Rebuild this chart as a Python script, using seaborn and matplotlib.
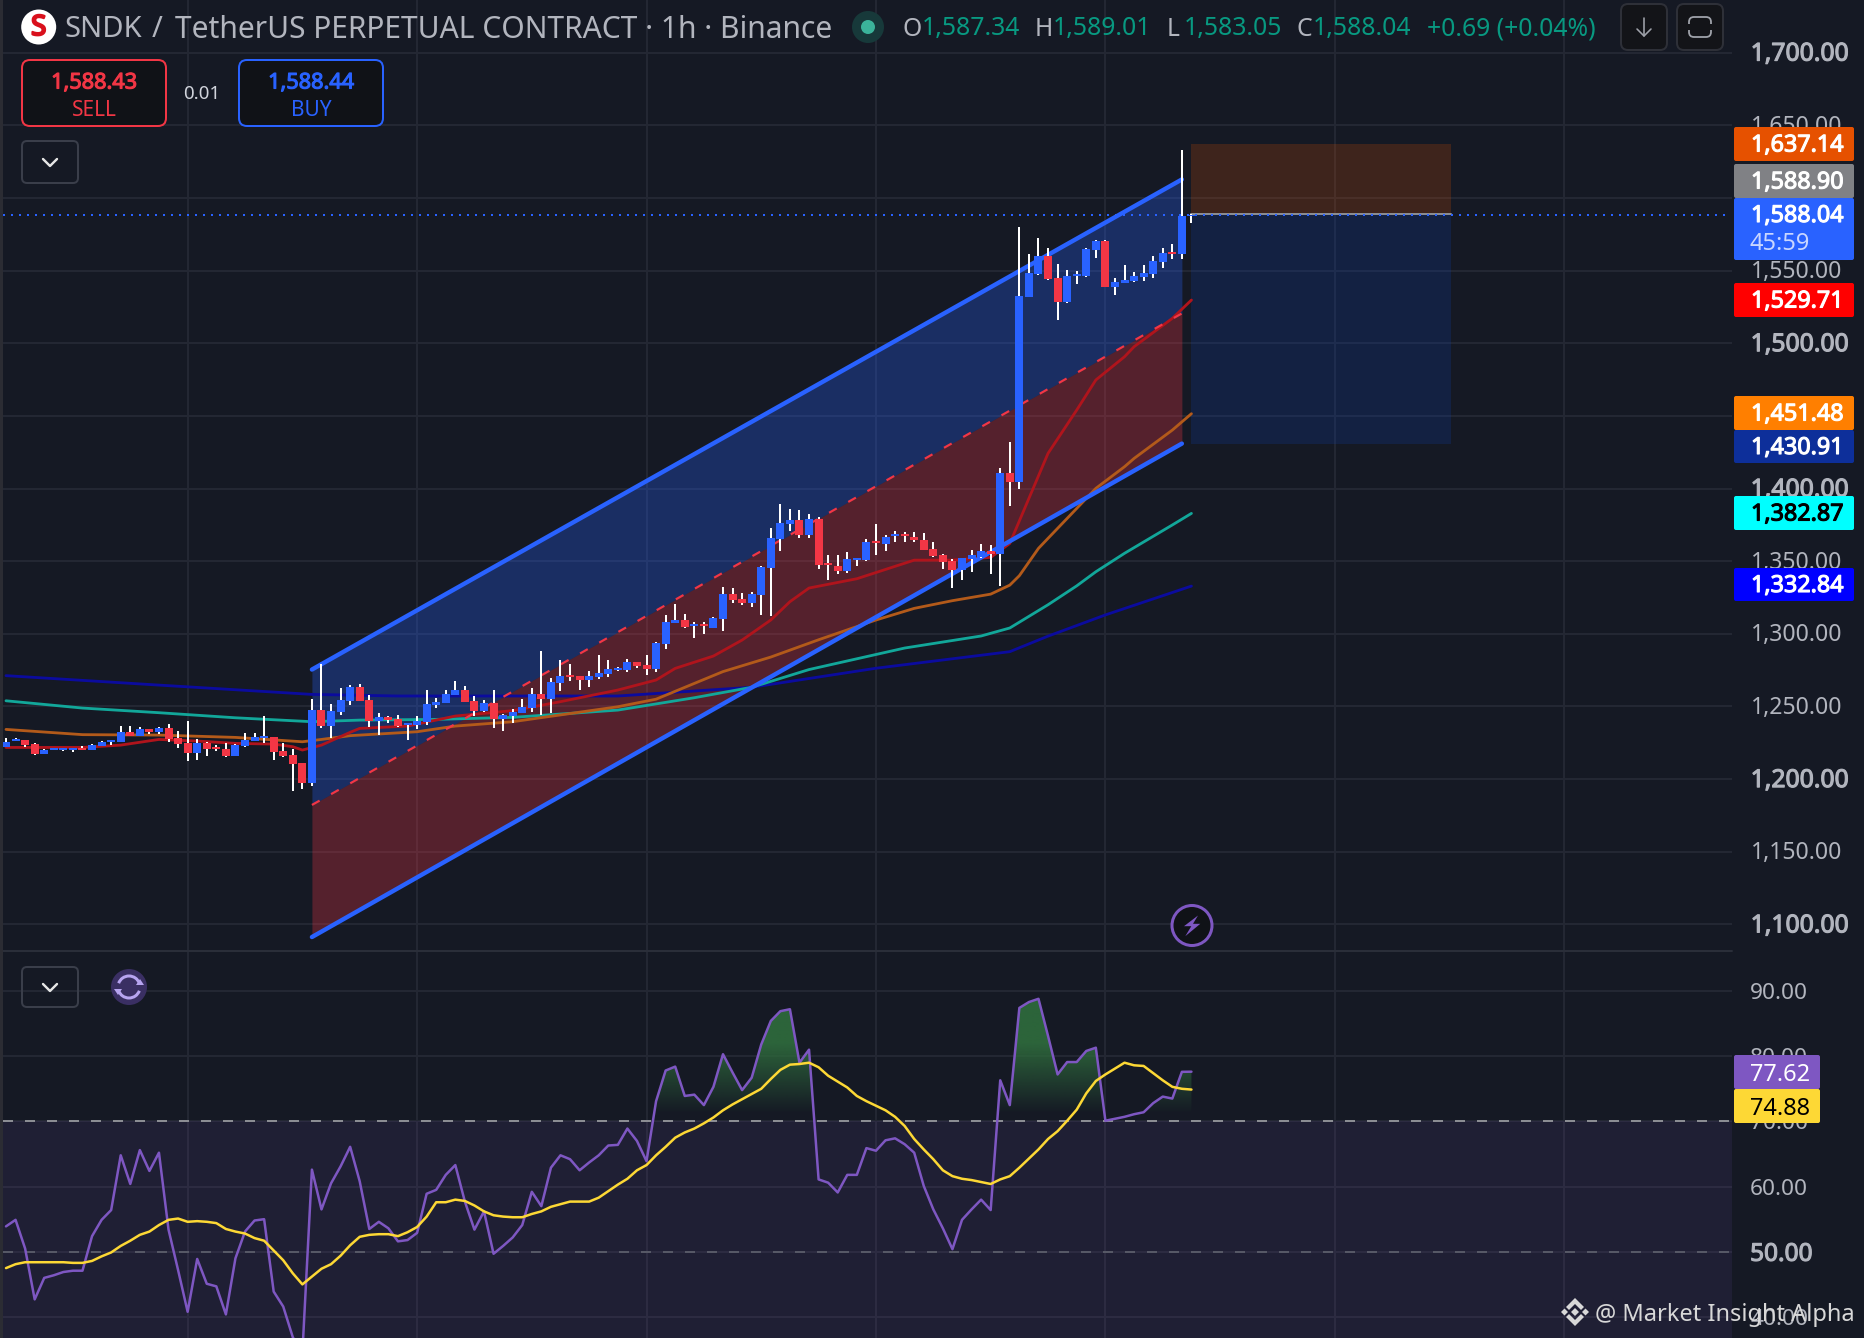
import numpy as np
import pandas as pd
import matplotlib
matplotlib.use("Agg")
import matplotlib.pyplot as plt
import matplotlib.patheffects as pe
from matplotlib.patches import FancyBboxPatch, Circle, Polygon, Arc
from matplotlib.path import Path
from matplotlib.transforms import Affine2D
import seaborn as sns

# ---------------- data ----------------
open_ = [1221.8,1226.2,1226.9,1224.1,1217.2,1220.0,1220.0,1220.0,1221.6,1220.0,
1222.7,1225.5,1225.5,1232.4,1229.6,1234.4,1232.4,1235.1,1228.3,1224.8,
1217.9,1224.8,1222.1,1220.7,1215.9,1222.7,1226.2,1228.3,1228.9,1219.3,
1216.6,1211.0,1197.3,1247.5,1236.5,1246.1,1253.7,1263.4,1254.4,1239.9,
1242.7,1241.3,1237.2,1237.2,1239.3,1251.0,1252.3,1257.8,1261.3,1253.7,
1246.8,1252.3,1241.3,1243.4,1245.5,1248.9,1258.5,1255.1,1266.1,1271.6,
1270.9,1268.2,1270.2,1272.3,1275.1,1275.1,1280.6,1278.5,1275.8,1293.0,
1307.4,1309.5,1305.4,1306.7,1304.0,1310.2,1327.3,1323.9,1321.2,1326.7,
1345.2,1365.2,1375.5,1378.3,1368.0,1379.0,1348.7,1346.6,1343.2,1350.7,
1350.7,1363.8,1361.8,1367.3,1368.6,1366.6,1364.5,1358.3,1354.2,1350.1,
1343.9,1351.4,1352.8,1356.9,1354.9,1410.4,1404.4,1531.8,1547.6,1560.0,
1544.8,1528.3,1546.2,1546.2,1564.1,1570.3,1538.7,1541.4,1542.8,1545.5,
1547.6,1555.9,1562.7,1561.4,1587.34]
close = [1225.5,1227.6,1223.2,1217.2,1220.0,1221.6,1221.6,1221.6,1220.0,1223.4,
1225.5,1226.9,1232.4,1229.6,1234.4,1232.4,1235.1,1227.6,1224.1,1217.9,
1224.8,1220.7,1220.7,1215.9,1223.4,1226.9,1228.9,1229.6,1218.6,1215.9,
1210.4,1197.3,1247.5,1236.5,1246.8,1254.4,1263.4,1253.7,1239.9,1242.7,
1240.6,1236.5,1238.6,1239.9,1251.7,1253.0,1258.5,1261.3,1253.0,1246.8,
1252.3,1241.3,1244.1,1246.1,1249.6,1258.5,1255.1,1266.8,1270.9,1270.2,
1268.2,1270.9,1273.0,1275.7,1276.4,1280.6,1277.8,1275.8,1293.7,1308.1,
1309.5,1304.7,1306.7,1305.4,1310.9,1327.4,1323.2,1321.2,1327.3,1345.9,
1365.9,1376.2,1378.3,1368.0,1379.0,1347.3,1347.3,1343.2,1351.4,1352.1,
1363.1,1362.4,1366.6,1368.6,1367.3,1364.5,1357.6,1353.5,1349.4,1343.9,
1352.1,1354.2,1356.9,1354.9,1410.4,1404.4,1532.4,1548.1,1560.0,1544.2,
1528.3,1546.2,1547.6,1564.8,1570.3,1538.7,1542.1,1543.5,1546.2,1548.3,
1556.5,1562.0,1561.4,1587.5,1588.04]
high = [1228.3,1228.3,1226.9,1224.6,1220.7,1221.6,1221.6,1221.6,1222.7,1224.1,
1226.2,1226.9,1236.5,1236.5,1235.8,1234.4,1235.8,1237.9,1233.1,1239.9,
1227.6,1225.5,1223.4,1224.8,1224.1,1231.7,1231.7,1243.4,1228.9,1224.8,
1220.7,1211.0,1255.1,1279.2,1251.7,1262.7,1264.7,1265.4,1257.8,1245.5,
1243.4,1244.1,1238.6,1243.4,1261.3,1255.8,1261.3,1267.5,1264.0,1257.1,
1254.4,1261.3,1244.8,1248.2,1255.1,1262.7,1288.1,1269.5,1281.9,1279.2,
1270.9,1274.4,1285.4,1281.9,1277.1,1282.7,1280.6,1285.4,1294.3,1312.9,
1320.5,1313.6,1308.1,1308.1,1311.6,1332.2,1331.5,1328.0,1328.7,1346.6,
1372.8,1389.3,1385.8,1385.2,1382.4,1380.3,1354.2,1354.2,1356.3,1352.1,
1365.2,1375.5,1367.9,1370.7,1370.0,1370.0,1369.3,1363.1,1354.9,1351.4,
1352.1,1357.6,1361.8,1361.1,1413.9,1431.7,1579.7,1561.4,1572.4,1565.5,
1554.5,1550.4,1549.7,1565.5,1571.0,1571.0,1544.8,1553.8,1549.0,1553.8,
1560.0,1565.5,1568.2,1632.9,1589.01]
low = [1221.8,1226.2,1222.3,1216.6,1217.2,1219.8,1219.5,1218.6,1220.0,1220.0,
1222.7,1223.4,1225.5,1229.6,1229.6,1231.0,1231.0,1225.5,1221.4,1212.4,
1213.1,1215.9,1219.3,1215.2,1215.9,1222.1,1226.2,1224.8,1213.1,1215.2,
1191.8,1193.2,1195.2,1235.1,1228.3,1244.1,1251.0,1253.7,1235.8,1230.3,
1238.6,1235.8,1226.9,1234.4,1237.2,1248.9,1252.3,1257.8,1253.0,1243.4,
1246.1,1235.1,1233.1,1238.6,1245.5,1246.1,1244.1,1245.5,1260.6,1267.5,
1261.3,1263.4,1268.9,1270.2,1274.4,1273.7,1276.5,1271.6,1273.7,1289.5,
1307.4,1304.0,1297.1,1299.9,1304.0,1301.9,1321.2,1319.8,1318.4,1312.9,
1312.2,1356.9,1370.7,1365.9,1365.9,1344.5,1337.0,1341.1,1341.8,1346.6,
1350.1,1354.2,1356.9,1363.1,1363.1,1363.1,1357.6,1352.8,1344.5,1331.5,
1337.0,1342.5,1352.1,1341.1,1332.8,1387.9,1399.6,1531.8,1546.9,1543.5,
1515.9,1527.6,1540.7,1545.5,1558.6,1538.7,1533.1,1541.4,1542.1,1542.8,
1544.8,1551.7,1557.9,1557.9,1583.05]

ma_red_x = [0,8,12,16,20,24,28,30,31,33,36,37,42,47,53,58,64,68,70,74,77,80,82,84,89,95,99,103,105,109,112,114,117,118,122,124]
ma_red_y = [1221.8,1221.8,1223.4,1227.3,1226.2,1224.6,1224.1,1222.3,1220.0,1223.4,1232.2,1234.9,1236.5,1243.4,1247.1,1253.3,1261.3,1268.2,1276.2,1284.7,1295.7,1309.5,1322.1,1331.5,1337.9,1350.7,1350.7,1352.6,1362.2,1424.2,1454.0,1474.7,1490.7,1497.6,1517.1,1529.71]
ma_orange_x = [0,8,16,24,31,33,36,43,47,53,64,68,75,80,85,91,95,99,103,105,106,108,109,112,114,117,118,122,124]
ma_orange_y = [1234.2,1230.6,1230.3,1228.7,1225.7,1227.3,1229.9,1232.6,1236.5,1239.5,1249.8,1255.0,1274.0,1284.0,1295.9,1309.5,1317.5,1322.8,1327.3,1333.5,1340.0,1358.8,1365.7,1386.3,1400.1,1415.0,1420.7,1440.2,1451.48]
ma_teal_x = [0,8,16,24,32,37,45,53,64,72,78,84,94,102,105,109,112,114,117,122,124]
ma_teal_y = [1253.9,1248.9,1245.7,1242.2,1239.5,1240.6,1241.1,1242.5,1247.5,1256.0,1263.2,1275.4,1290.2,1298.5,1304.0,1320.0,1333.0,1342.7,1355.4,1374.9,1382.87]
ma_navy_x = [0,16,32,41,64,78,91,105,109,115,124]
ma_navy_y = [1271.2,1264.7,1258.3,1257.2,1257.2,1263.2,1276.3,1287.7,1298.4,1313.0,1332.84]

rsi = [53.9,54.9,50.5,42.7,46.0,46.4,46.9,47.1,47.1,52.4,54.9,56.4,64.8,60.4,65.6,62.4,65.2,53.4,47.2,40.8,
48.9,45.1,44.7,40.4,49.0,53.1,54.8,55.0,43.9,41.6,36.9,34.4,62.6,56.5,60.5,63.1,66.1,60.8,53.5,54.6,
53.6,51.6,51.8,52.9,58.9,59.5,61.8,63.3,57.7,53.4,56.2,49.7,50.9,52.2,54.1,59.2,57.0,62.9,64.8,64.2,
62.5,63.7,64.8,66.3,66.4,68.9,67.0,63.9,73.1,77.8,78.4,73.9,74.1,72.5,75.3,80.3,77.5,74.8,76.7,81.8,
85.4,86.9,87.2,79.0,81.0,61.1,60.6,59.1,61.8,61.8,65.9,65.5,67.1,67.4,66.5,65.2,60.1,56.5,53.6,50.4,
54.9,56.5,58.0,56.4,76.3,72.5,87.4,88.3,88.8,83.1,77.2,79.1,79.1,80.8,81.3,70.1,70.4,70.7,71.1,71.4,
72.8,73.8,73.5,77.6,77.62]
rsi_ma = [47.5,48.1,48.4,48.4,48.4,48.4,48.4,48.3,48.3,48.6,49.3,49.9,50.9,51.7,52.6,53.1,54.1,54.9,55.1,54.6,
54.7,54.6,54.4,53.5,53.1,52.8,52.1,51.7,50.2,48.7,46.7,45.0,46.2,47.4,48.1,49.4,51.0,52.3,52.6,52.7,
52.7,52.4,53.0,53.8,55.4,57.6,57.6,58.0,57.8,57.1,56.2,55.6,55.4,55.3,55.3,55.8,56.2,56.9,57.3,57.7,
57.7,57.7,58.3,59.3,60.3,61.2,62.5,63.3,64.8,66.1,67.5,68.3,68.9,69.7,70.6,71.7,72.6,73.4,74.2,75.0,
76.5,77.9,78.7,78.8,79.0,78.3,77.0,76.1,75.2,73.9,73.1,72.4,71.7,70.7,69.3,67.3,65.7,64.2,62.5,61.6,
61.2,61.0,60.7,60.4,61.1,61.6,62.9,64.3,65.7,67.3,68.5,70.1,71.8,74.3,76.2,77.2,78.1,79.0,78.6,78.5,
77.4,76.3,75.3,75.0,74.88]

channel_x = [32, 123]
channel_top = [1275.4, 1612.7]
channel_mid = [1182.2, 1520.5]
channel_bot = [1091.3, 1430.91]
position_x = [124, 151.2]
position_stop = 1637.14
position_entry = 1588.90
position_target = 1430.91
last_price = 1588.04

price_ticks = [1100,1150,1200,1250,1300,1350,1400,1450,1500,1550,1600,1650,1700]
price_labeled = {1100:True,1150:False,1200:True,1250:False,1300:False,1350:False,1400:True,1500:True,1550:False,1650:False,1700:True}
rsi_ticks = [40,50,60,70,80,90]
time_grid = [19,43,67,91,115,139,163]
price_badges = [("1,637.14","#e65100","white",127,161),("1,588.90","#808185","white",164,198),
                ("1,529.71","#ff0000","white",283,317),("1,451.48","#ff7f00","white",396,430),
                ("1,430.91","#0d2f9a","white",430,463),("1,382.87","#00ffff","black",496,530),
                ("1,332.84","#0000ff","white",568,601)]

# ---------------- style ----------------
BG = "#151924"; GRID = "#232733"; BLUE = "#2962ff"; RED = "#f23645"; TICK = "#b2b5be"; TEAL = "#089981"
W, H = 1864, 1338
px = 72 / 100
sns.set_theme(style="dark", rc={"figure.facecolor": BG, "axes.facecolor": BG, "savefig.facecolor": BG,
                                "axes.grid": True, "grid.color": GRID, "grid.linewidth": 2 * px})
plt.rcParams["font.family"] = ["Noto Sans", "DejaVu Sans"]

def heavy(color, w=.8):
    return [pe.withStroke(linewidth=w, foreground=color)]

fig = plt.figure(figsize=(W / 100, H / 100), dpi=100)
L, R_, SEP = 3, 1732, 951
ax = fig.add_axes([L / W, 1 - SEP / H, (R_ - L) / W, SEP / H])
ax2 = fig.add_axes([L / W, 0, (R_ - L) / W, (H - SEP) / H])
ov = fig.add_axes([0, 0, 1, 1], zorder=10)
ov.set_xlim(0, W); ov.set_ylim(H, 0); ov.axis("off"); ov.patch.set_alpha(0)

x_left, x_right = (L - 6) / 9.56, (R_ - 6) / 9.56
idx = np.arange(len(open_))
o, c, hi, lo = map(np.array, (open_, close, high, low))

# ---------------- price panel ----------------
ax.set_xlim(x_left, x_right); ax.set_ylim(1081.7, 1736.2)
ax.set_axisbelow(True)
for s in ax.spines.values(): s.set_visible(False)
ax.fill_between(channel_x, channel_mid, channel_top, color=BLUE, alpha=.29, lw=0, zorder=1)
ax.fill_between(channel_x, channel_bot, channel_mid, color=RED, alpha=.29, lw=0, zorder=1)
ax.fill_between(position_x, position_entry, position_stop, color="#e65100", alpha=.2, lw=0, zorder=1)
ax.fill_between(position_x, position_target, position_entry, color="#1040b0", alpha=.22, lw=0, zorder=1)
ax.plot(position_x, [position_entry] * 2, color="#8a8c92", lw=2 * px, zorder=2)

for xs, ys, col in [(ma_navy_x, ma_navy_y, "#0b0b9e"), (ma_teal_x, ma_teal_y, "#12a79a"),
                    (ma_orange_x, ma_orange_y, "#b35a1a"), (ma_red_x, ma_red_y, "#b0141c")]:
    sns.lineplot(data=pd.DataFrame({"bar": xs, "value": ys}), x="bar", y="value", ax=ax, color=col,
                 lw=2.8 * px, estimator=None, legend=False, zorder=3)
for ys in (channel_top, channel_bot):
    ax.plot(channel_x, ys, color=BLUE, lw=4.4 * px, solid_capstyle="round", zorder=4)
ax.plot(channel_x, channel_mid, color=RED, lw=2.2 * px, ls=(0, (4, 6)), zorder=4)
ax.plot([x_left, (1726 - 6) / 9.56], [last_price] * 2, color=BLUE, lw=2 * px, ls=(0, (1, 3)), zorder=4)

ax.vlines(idx, lo, hi, color="white", lw=2 * px, zorder=5)
ax.bar(idx, np.maximum(np.abs(c - o), .6), bottom=np.minimum(o, c), width=.84,
       color=[BLUE if b >= a else RED for a, b in zip(o, c)], lw=0, zorder=6)

ax.set_xticks(time_grid); ax.tick_params(axis="x", length=0, labelbottom=False)
ax.set_xlabel(""); ax.set_ylabel("")
ax.yaxis.tick_right()
ax.set_yticks(price_ticks)
ax.set_yticklabels([f"{v:,.2f}" if v in price_labeled else "" for v in price_ticks])
ax.tick_params(axis="y", length=0, pad=13.4, colors=TICK)
for v, t in zip(price_ticks, ax.get_yticklabels()):
    big = price_labeled.get(v, False)
    t.set_fontsize(17.8 if big else 16.6)
    t.set_verticalalignment("center_baseline")
    t.set_transform(t.get_transform() + Affine2D().translate(0, 1.5))
    if big:
        t.set_path_effects(heavy(TICK))

# ---------------- RSI panel ----------------
ax2.set_xlim(x_left, x_right); ax2.set_ylim(36.78, 96.13)
ax2.set_axisbelow(True)
for s in ax2.spines.values(): s.set_visible(False)
ax2.axhspan(36.78, 70, color="#7e57c2", alpha=.1, lw=0, zorder=1)
rsi_arr = np.array(rsi)
poly = ax2.fill_between(idx, rsi_arr, 70, where=rsi_arr > 70, interpolate=True, alpha=0, lw=0)
clip = Path.make_compound_path(*poly.get_paths())
grad = np.zeros((64, 2, 4))
grad[..., 0], grad[..., 1], grad[..., 2] = 46 / 255, 105 / 255, 60 / 255
grad[..., 3] = (np.clip((np.linspace(90, 70, 64) - 71) / 11, 0, 1) * .95)[:, None]
im = ax2.imshow(grad, extent=(0, 124, 70, 90), aspect="auto", origin="upper", zorder=2, interpolation="bilinear")
im.set_clip_path(clip, transform=ax2.transData)
ax2.set_xlim(x_left, x_right); ax2.set_ylim(36.78, 96.13)
ax2.axhline(70, color="#8b8d93", lw=2 * px, ls=(0, (5, 6)), zorder=3)
ax2.axhline(50, color="#565866", lw=2 * px, ls=(0, (5, 6)), zorder=3)
df = pd.DataFrame({"bar": idx, "rsi": rsi, "rsi_ma": rsi_ma})
sns.lineplot(data=df, x="bar", y="rsi", ax=ax2, color="#7e57c2", lw=2.5 * px, estimator=None, legend=False, zorder=4)
sns.lineplot(data=df, x="bar", y="rsi_ma", ax=ax2, color="#fdd835", lw=2.5 * px, estimator=None, legend=False, zorder=5)
ax2.set_xticks(time_grid); ax2.tick_params(axis="x", length=0, labelbottom=False)
ax2.set_xlabel(""); ax2.set_ylabel("")
ax2.yaxis.tick_right(); ax2.set_yticks(rsi_ticks)
ax2.set_yticklabels([f"{v:.2f}" for v in rsi_ticks])
ax2.tick_params(axis="y", length=0, pad=13, colors=TICK, labelsize=16.3)
for v, t in zip(rsi_ticks, ax2.get_yticklabels()):
    t.set_verticalalignment("center_baseline")
    if v == 50:
        t.set_fontsize(17.6); t.set_path_effects(heavy(TICK))

# ---------------- overlay: header, buttons, badges ----------------
def rrect(x0, y0, x1, y1, fc, ec="none", lw=0, r=8, z=2):
    ov.add_patch(FancyBboxPatch((x0, y0), x1 - x0, y1 - y0, boxstyle=f"round,pad=0,rounding_size={r}",
                                fc=fc, ec=ec, lw=lw * px, zorder=z))

ov.plot([0, 1732], [950.7, 950.7], color="#2a2e39", lw=2 * px, zorder=1)
ov.add_patch(plt.Rectangle((0, 0), 3, H, fc="#2b2c33", ec="none", zorder=1))

# logo + title
ov.add_patch(Circle((38.7, 27), 17.5, fc="white", ec="none", zorder=2))
ov.text(38.7, 28, "S", color="#d9101c", fontsize=20, ha="center", va="center", zorder=3, path_effects=heavy("#d9101c", 1.6))
ov.text(65, 29.5, "SNDK", color="#b2b5be", fontsize=21, va="center", zorder=3)
ov.text(152, 29.5, "/", color="#b2b5be", fontsize=21, va="center", zorder=3)
ov.text(175, 29.5, "TetherUS PERPETUAL CONTRACT · 1h · Binance", color="#b2b5be", fontsize=21.6, va="center", zorder=3)
ov.add_patch(Circle((868, 27), 16, fc="#17393a", ec="none", zorder=2))
ov.add_patch(Circle((868, 27), 7, fc="#3bb39a", ec="none", zorder=3))
for tx, tv, lx, lv in [(902, "O", 922, "1,587.34"), (1035, "H", 1053, "1,589.01"),
                       (1167, "L", 1184, "1,583.05"), (1296, "C", 1313, "1,588.04")]:
    ov.text(tx, 29, tv, color=TICK, fontsize=17.8, va="center", zorder=3)
    ov.text(lx, 29, lv, color=TEAL, fontsize=17.8, va="center", zorder=3)
ov.text(1427, 29, "+0.69 (+0.04%)", color=TEAL, fontsize=17.8, va="center", zorder=3)

# sell / buy
rrect(22, 60, 166, 126, "#101217", RED, 2)
rrect(239, 60, 383, 126, "#101217", BLUE, 2)
ov.text(94, 83, "1,588.43", color=RED, fontsize=15.6, ha="center", va="center", zorder=3, path_effects=heavy(RED))
ov.text(94, 110, "SELL", color=RED, fontsize=15, ha="center", va="center", zorder=3)
ov.text(311, 83, "1,588.44", color=BLUE, fontsize=15.6, ha="center", va="center", zorder=3, path_effects=heavy(BLUE))
ov.text(311, 110, "BUY", color=BLUE, fontsize=15, ha="center", va="center", zorder=3)
ov.text(202, 94, "0.01", color="#d1d4dc", fontsize=13.5, ha="center", va="center", zorder=3)

# collapse buttons
for y0, y1 in [(141, 183), (967, 1007)]:
    rrect(22, y0, 78, y1, "none", "#3a3e4a", 2, r=5)
    ym = (y0 + y1) / 2
    ov.plot([43, 50, 57], [ym - 3, ym + 4, ym - 3], color="#e6e6e6", lw=2.4 * px, zorder=3)

# refresh icon
ov.add_patch(Circle((129, 987), 18, fc="#3a2f63", ec="none", zorder=2))
ov.add_patch(Arc((129, 987), 22, 22, theta1=200, theta2=340, color="#b7a4f0", lw=3 * px, zorder=3))
ov.add_patch(Arc((129, 987), 22, 22, theta1=20, theta2=160, color="#b7a4f0", lw=3 * px, zorder=3))
ov.add_patch(Polygon([(136, 985), (144, 985), (140, 979)], fc="#b7a4f0", ec="none", zorder=3, closed=True))
ov.add_patch(Polygon([(114, 989), (122, 989), (118, 995)], fc="#b7a4f0", ec="none", zorder=3, closed=True))

# lightning icon
ov.add_patch(Circle((1192, 925.5), 20, fc="#101217", ec="#7e57c2", lw=3 * px, zorder=2))
ov.add_patch(Polygon([(1192 + a, 925.5 + b) for a, b in [(6, -10), (-8, .7), (-.7, .7), (-6.7, 10.7), (8.3, -1.7), (1, -1.7)]],
                     fc="#7e57c2", ec="none", zorder=3))

# top-right buttons
rrect(1621, 4, 1667, 50, "#131418", "#2e3038", 2, r=7)
rrect(1677, 4, 1723, 50, "#131418", "#2e3038", 2, r=7)
ov.plot([1644, 1644], [18, 36], color="#a0a3ab", lw=1.6 * px, zorder=3)
ov.plot([1637, 1644, 1651], [29, 36, 29], color="#a0a3ab", lw=1.6 * px, zorder=3)
rrect(1689, 17, 1711, 37, "none", "#a0a3ab", 1.8, r=5, z=3)
ov.add_patch(plt.Rectangle((1684, 24), 32, 6, fc="#131418", ec="none", zorder=4))

# price badges
for txt, fc, tc, y0, y1 in price_badges:
    rrect(1734, y0, 1854, y1, fc, r=2, z=5)
    ov.text(1751, (y0 + y1) / 2 + 1.5, txt, color=tc, fontsize=16.8, va="center", zorder=6, path_effects=heavy(tc))
rrect(1734, 198, 1854, 260, BLUE, r=2, z=5)
ov.text(1751, 216, "1,588.04", color="white", fontsize=16.8, va="center", zorder=6, path_effects=heavy("white"))
ov.text(1750, 244, "45:59", color="#c9d6ff", fontsize=17, va="center", zorder=6)
rrect(1734, 1055, 1820, 1089, "#7e57c2", r=2, z=5)
ov.text(1750, 1075, "77.62", color="white", fontsize=17, va="center", zorder=6)
rrect(1734, 1089, 1820, 1123, "#fdd835", r=2, z=5)
ov.text(1750, 1109, "74.88", color="black", fontsize=17, va="center", zorder=6)

# watermark
WM = "#d8d8d8"
cx, cy = 1575, 1312
for pts in ([(0, -14), (9, -5), (6, -2), (0, -8), (-6, -2), (-9, -5)],
            [(0, 14), (9, 5), (6, 2), (0, 8), (-6, 2), (-9, 5)],
            [(-4, 0), (0, -4), (4, 0), (0, 4)],
            [(-14, 0), (-10.5, -3.5), (-7, 0), (-10.5, 3.5)],
            [(14, 0), (10.5, -3.5), (7, 0), (10.5, 3.5)]):
    ov.add_patch(Polygon([(cx + a, cy + b) for a, b in pts], fc=WM, ec="none", zorder=7))
ov.text(1595, 1315, "@ Market Insight Alpha", color=WM, fontsize=17, va="center", zorder=7)

fig.savefig("out.png", dpi=100)
